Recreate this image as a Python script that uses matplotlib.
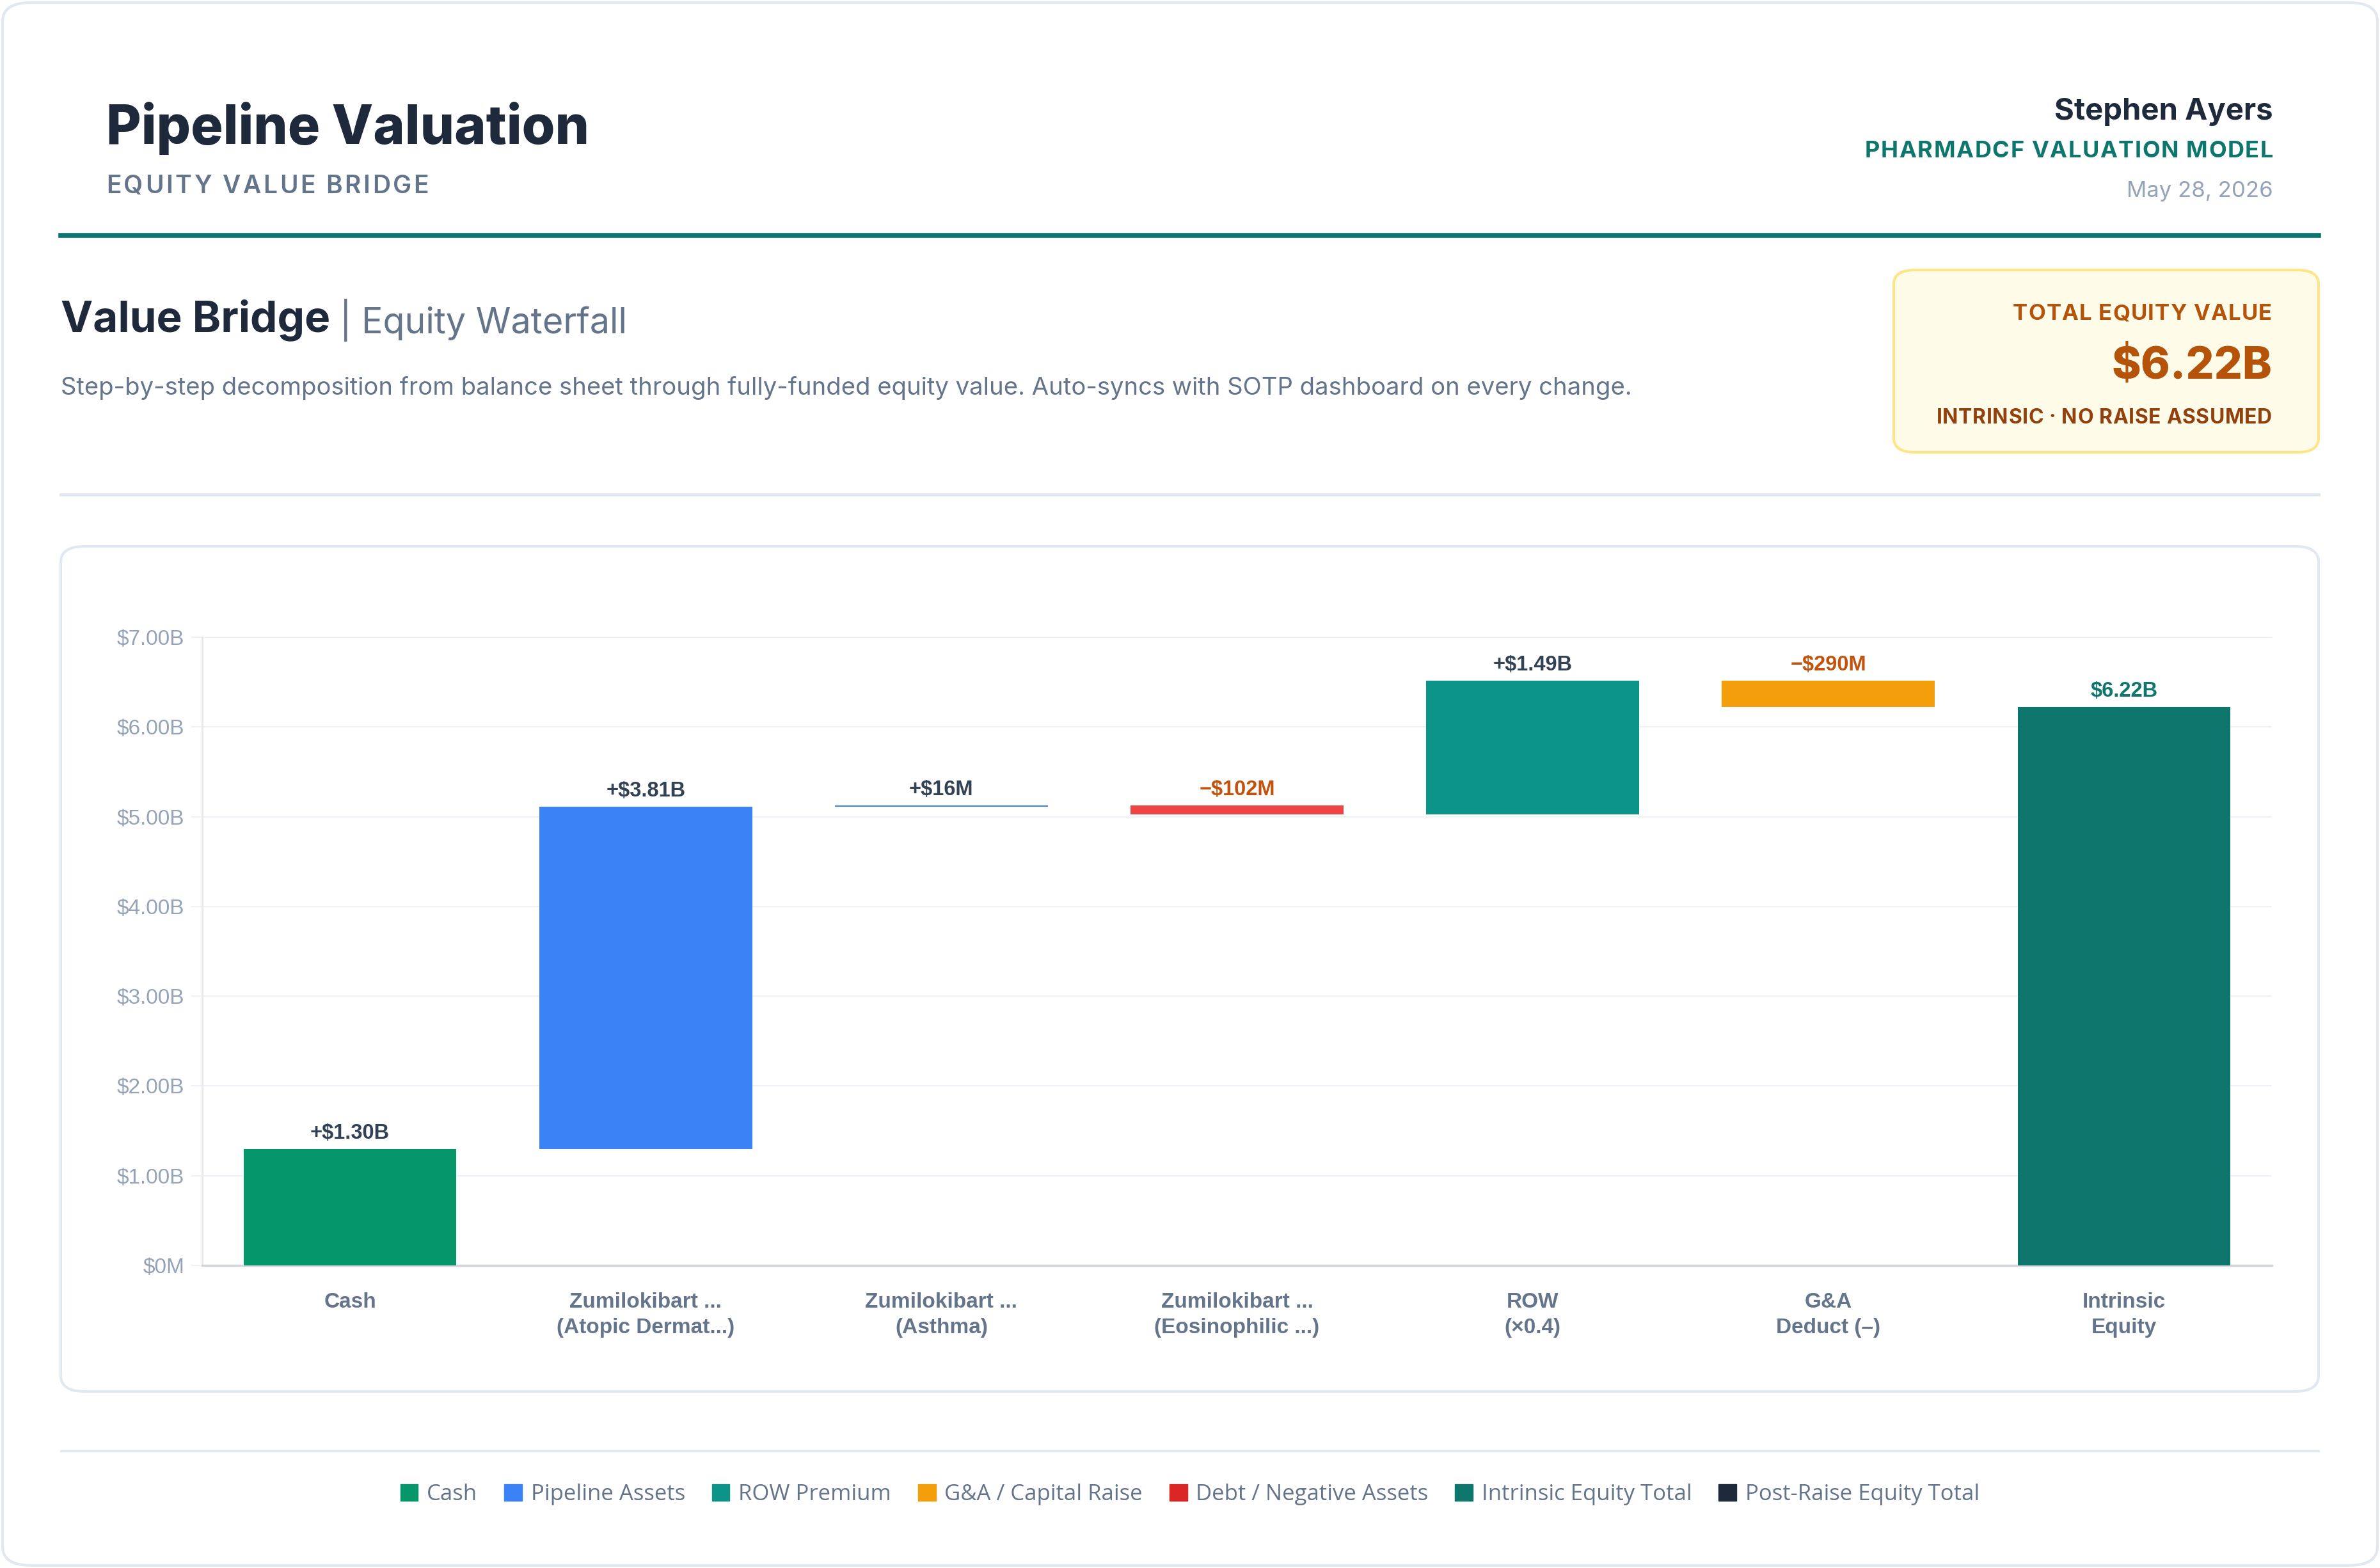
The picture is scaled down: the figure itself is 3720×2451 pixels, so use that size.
import matplotlib
matplotlib.use("Agg")
import matplotlib.pyplot as plt
import matplotlib.patches as mpatches
from matplotlib.patches import FancyBboxPatch
import numpy as np

# ── Data ─────────────────────────────────────────────────────────────────────
CATEGORIES = ["Cash", "Zumilokibart ...\n(Atopic Dermat...)", "Zumilokibart ...\n(Asthma)",
              "Zumilokibart ...\n(Eosinophilic ...)", "ROW\n(×0.4)", "G&A\nDeduct (–)",
              "Intrinsic\nEquity"]
DELTAS = [1.30, 3.81, 0.016, -0.102, 1.49, -0.290, 6.22]   # $B
IS_TOTAL = [False, False, False, False, False, False, True]
BAR_LABELS = ["+$1.30B", "+$3.81B", "+$16M", "−$102M", "+$1.49B", "−$290M", "$6.22B"]
BAR_COLORS = ["#059669", "#3b82f6", "#3b82f6", "#ef4444", "#0d9488", "#f59e0b", "#0f766e"]
LABEL_COLORS = ["#334155", "#334155", "#334155", "#c2520c", "#334155", "#c2520c", "#0f766e"]

YTICKS = [0, 1, 2, 3, 4, 5, 6, 7]
YTICK_LABELS = ["$0M", "$1.00B", "$2.00B", "$3.00B", "$4.00B", "$5.00B", "$6.00B", "$7.00B"]

LEGEND_NAMES = ["Cash", "Pipeline Assets", "ROW Premium", "G&A / Capital Raise",
                "Debt / Negative Assets", "Intrinsic Equity Total", "Post-Raise Equity Total"]
LEGEND_COLORS = ["#059669", "#3b82f6", "#0d9488", "#f59e0b", "#dc2626", "#0f766e", "#1e293b"]

W, H = 3720, 2451
HEAD = "Inter"
CHART = "Liberation Sans"


def fx(x):
    return x / W


def fy(y):
    return 1 - y / H


fig = plt.figure(figsize=(W / 100, H / 100), dpi=100)
fig.patch.set_facecolor("white")
renderer = fig.canvas.get_renderer()


def spaced(x_px, y_px, s, gap_px, ha="left", **kw):
    # draw text letter by letter with extra tracking
    widths = []
    for ch in s:
        t = fig.text(0, 0, ch if ch != " " else "n n", **kw)
        w = t.get_window_extent(renderer).width
        if ch == " ":
            t2 = fig.text(0, 0, "nn", **kw)
            w = w - t2.get_window_extent(renderer).width
            t2.remove()
        t.remove()
        widths.append(w)
    total = sum(widths) + gap_px * (len(s) - 1)
    cur = x_px - total if ha == "right" else x_px
    for ch, w in zip(s, widths):
        if ch != " ":
            fig.text(fx(cur), fy(y_px), ch, ha="left", va="center", **kw)
        cur += w + gap_px


# outer card
fig.patches.append(FancyBboxPatch((fx(4), fy(H - 4)), fx(W - 8), 1 - 8 / H,
                                  boxstyle="round,pad=0,rounding_size=0.012",
                                  transform=fig.transFigure, facecolor="white",
                                  edgecolor="#e2e8f0", linewidth=3, zorder=-2))

# ── Header ───────────────────────────────────────────────────────────────────
fig.text(fx(166), fy(200), "Pipeline Valuation", family=HEAD, fontsize=60.5, fontweight="heavy",
         color="#1e293b", ha="left", va="center")
spaced(166, 292, "EQUITY VALUE BRIDGE", 3.6, family=HEAD, fontsize=28, fontweight="semibold",
       color="#64748b")
fig.text(fx(3553), fy(175), "Stephen Ayers", family=HEAD, fontsize=34, fontweight="bold",
         color="#1e293b", ha="right", va="center")
spaced(3553, 237, "PHARMADCF VALUATION MODEL", 1.6, ha="right", family=HEAD, fontsize=26,
       fontweight="bold", color="#0f766e")
fig.text(fx(3553), fy(299), "May 28, 2026", family=HEAD, fontsize=25,
         color="#94a3b8", ha="right", va="center")
fig.add_artist(plt.Line2D([fx(95), fx(3624)], [fy(368), fy(368)], transform=fig.transFigure,
                          color="#0f766e", linewidth=5.5))

# section title
t1 = fig.text(fx(95), fy(500), "Value Bridge", family=HEAD, fontsize=48.5, fontweight="bold",
              color="#1e293b", ha="left", va="center")
bb = t1.get_window_extent(renderer)
fig.text(bb.x1 / W + 0.004, fy(500), "| Equity Waterfall", family=HEAD, fontsize=40,
         color="#64748b", ha="left", va="center")
fig.text(fx(95), fy(607), "Step-by-step decomposition from balance sheet through fully-funded equity value. "
         "Auto-syncs with SOTP dashboard on every change.", family=HEAD, fontsize=27.5,
         color="#64748b", ha="left", va="center")
fig.add_artist(plt.Line2D([fx(95), fx(3624)], [fy(773), fy(773)], transform=fig.transFigure,
                          color="#e2e8f0", linewidth=3.5))

# KPI box
fig.patches.append(FancyBboxPatch((fx(2960), fy(707)), fx(3624 - 2960), (707 - 422) / H,
                                  boxstyle="round,pad=0,rounding_size=0.009",
                                  transform=fig.transFigure, facecolor="#fefce8",
                                  edgecolor="#fde68a", linewidth=3, zorder=-1))
spaced(3551, 491, "TOTAL EQUITY VALUE", 1.2, ha="right", family=HEAD, fontsize=25,
       fontweight="bold", color="#b45309")
fig.text(fx(3551), fy(574), "$6.22B", family=HEAD, fontsize=50, fontweight="heavy",
         color="#b45309", ha="right", va="center")
spaced(3551, 653, "INTRINSIC · NO RAISE ASSUMED", 0.6, ha="right", family=HEAD, fontsize=23,
       fontweight="bold", color="#92400e")

# chart card
fig.patches.append(FancyBboxPatch((fx(95), fy(2175)), fx(3624 - 95), (2175 - 854) / H,
                                  boxstyle="round,pad=0,rounding_size=0.01",
                                  transform=fig.transFigure, facecolor="white",
                                  edgecolor="#e2e8f0", linewidth=3, zorder=-1))

# ── Waterfall ────────────────────────────────────────────────────────────────
ax = fig.add_axes([fx(316), fy(1978), fx(3551 - 316), (1978 - 996) / H])
ax.set_zorder(5)
ax.set_facecolor("none")

x = np.arange(len(CATEGORIES))
running = 0.0
bottoms, heights = [], []
for d, tot in zip(DELTAS, IS_TOTAL):
    if tot:
        bottoms.append(0.0)
        heights.append(d)
    else:
        bottoms.append(running if d >= 0 else running + d)
        heights.append(abs(d))
        running += d

ax.bar(x, heights, bottom=bottoms, width=0.72, color=BAR_COLORS, zorder=3)

for i in range(len(x)):
    top = bottoms[i] + heights[i]
    ax.text(x[i], top + 0.065, BAR_LABELS[i], ha="center", va="bottom", family=CHART,
            fontsize=23.5, fontweight="bold", color=LABEL_COLORS[i])

ax.set_xlim(-0.5, len(x) - 0.5)
ax.set_ylim(0, 7)
ax.set_yticks(YTICKS)
ax.set_yticklabels(YTICK_LABELS, family=CHART, fontsize=24, color="#94a3b8")
ax.set_xticks(x)
ax.set_xticklabels(CATEGORIES, family=CHART, fontsize=24, fontweight="bold", color="#64748b",
                   linespacing=1.4)
ax.tick_params(axis="y", length=12, width=1.5, color="#eef2f6", pad=8)
ax.tick_params(axis="x", length=0, pad=30)
ax.grid(axis="y", color="#eef2f6", linewidth=1.5, zorder=0)
for s in ["top", "right"]:
    ax.spines[s].set_visible(False)
ax.spines["left"].set_color("#e5e7eb")
ax.spines["left"].set_linewidth(2)
ax.spines["bottom"].set_color("#d1d5db")
ax.spines["bottom"].set_linewidth(2.5)

# ── Legend ───────────────────────────────────────────────────────────────────
fig.add_artist(plt.Line2D([fx(95), fx(3624)], [fy(2268), fy(2268)], transform=fig.transFigure,
                          color="#e2e8f0", linewidth=2.5))
handles = [mpatches.Patch(facecolor=c, edgecolor=c, label=n) for n, c in zip(LEGEND_NAMES, LEGEND_COLORS)]
fig.legend(handles=handles, loc="center", bbox_to_anchor=(fx(1860), fy(2336)), ncol=7,
           frameon=False, handlelength=0.8, handleheight=0.8, handletextpad=0.4,
           columnspacing=1.2, prop={"family": "Open Sans", "size": 25}, labelcolor="#64748b")

fig.savefig("out.png", dpi=100)
